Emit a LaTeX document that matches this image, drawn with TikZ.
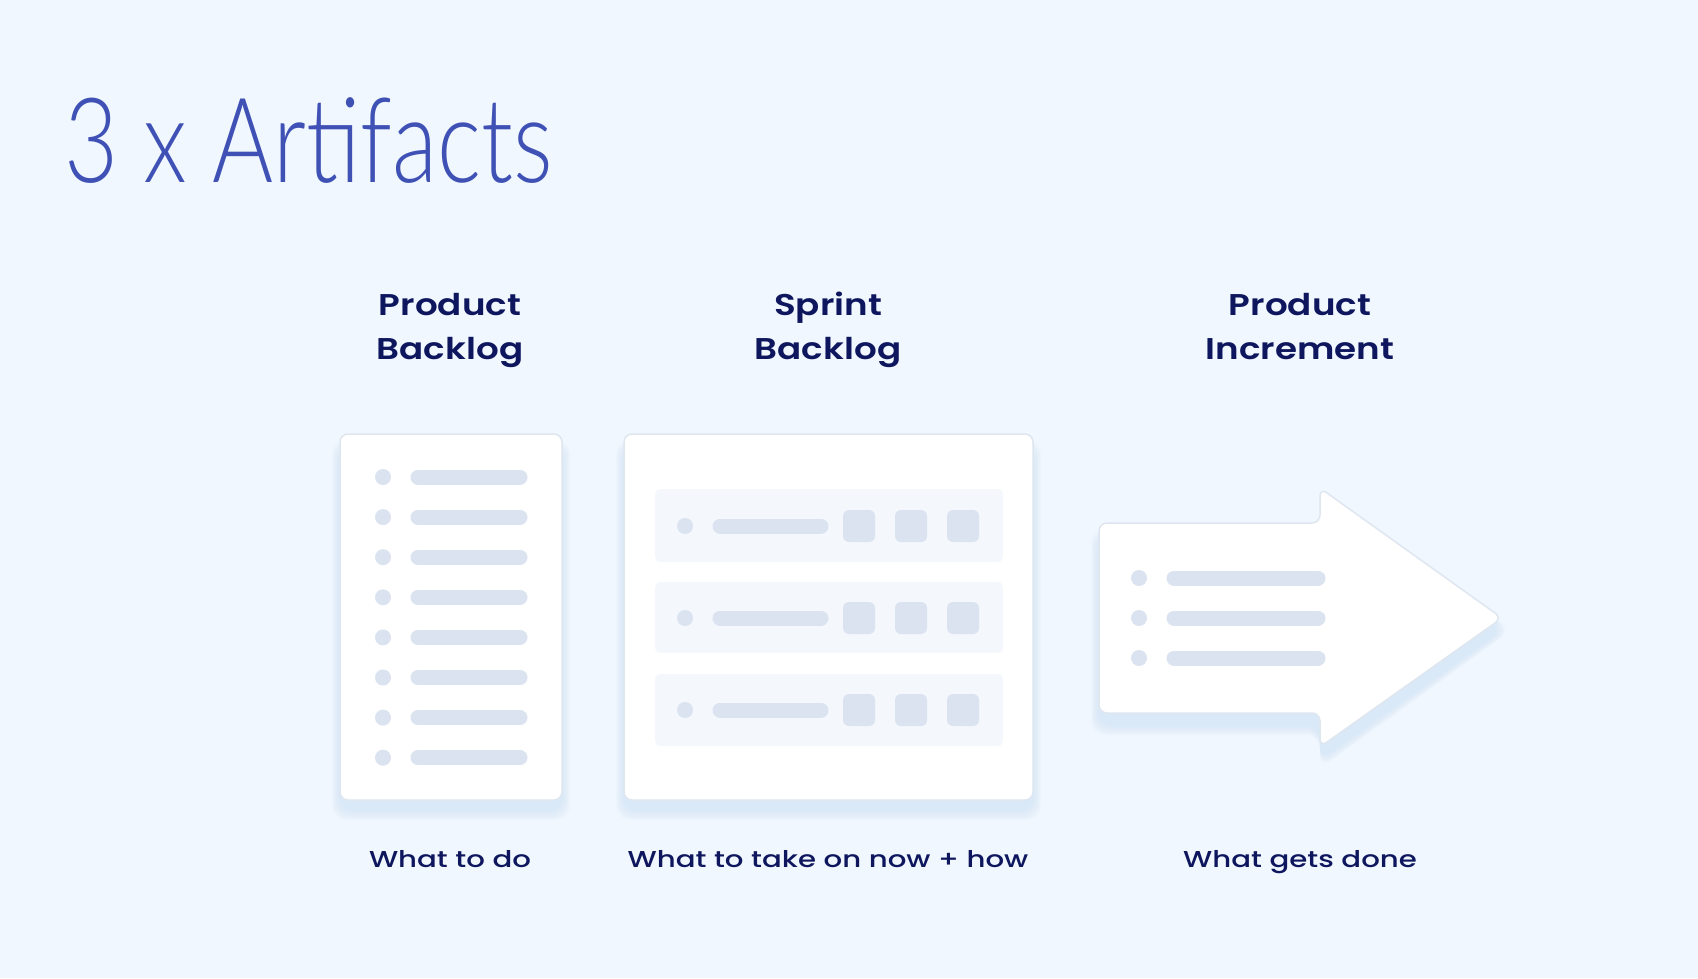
\documentclass[tikz,border=0pt]{standalone}
\usepackage{fontspec}
\newfontfamily\titlefont{Lato Light}
\newfontfamily\headfont{Poppins SemiBold}
\newfontfamily\labelfont{Poppins Medium}
\definecolor{bg}{RGB}{240,247,254}
\definecolor{titleblue}{RGB}{63,81,181}
\definecolor{navy}{RGB}{14,22,94}
\definecolor{bar}{RGB}{218,227,239}
\definecolor{panel}{RGB}{244,248,253}
\definecolor{cardline}{RGB}{222,230,240}
\definecolor{shadowc}{RGB}{200,222,248}
\tikzset{
  dot/.style={fill=bar},
  barline/.style={draw=bar,line width=15pt,line cap=round},
  card/.style={fill=white,draw=cardline,line width=1.5pt,rounded corners=8pt},
  sq/.style={fill=bar,rounded corners=6pt},
  pnl/.style={fill=panel,rounded corners=5pt},
  softshadow/.style={fill=shadowc,opacity=0.06,rounded corners=14pt},
  head/.style={font=\headfont\fontsize{30}{36}\selectfont,text=navy,anchor=base,inner sep=0pt,xscale=1.19},
  lab/.style={font=\labelfont\fontsize{23}{28}\selectfont,text=navy,anchor=base,inner sep=0pt,xscale=1.27},
}
\begin{document}
\begin{tikzpicture}[x=1pt,y=-1pt]
\fill[bg] (0,0) rectangle (1698,978);
\useasboundingbox (0,0) rectangle (1698,978);
% title
\node[font=\titlefont\fontsize{118}{120}\selectfont,text=titleblue,anchor=base west,inner sep=0pt,xscale=0.79] (title) at (64,182) {3 x Artifacts};
% headings
\node[head] (h1a) at (450,315) {Product};
\node[head] (h1b) at (450,359) {Backlog};
\node[head] (h2a) at (828,315) {Sprint};
\node[head] (h2b) at (828,359) {Backlog};
\node[head] (h3a) at (1300,315) {Product};
\node[head] (h3b) at (1300,359) {Increment};
% bottom labels
\node[lab] (l1) at (450,867) {What to do};
\node[lab] (l2) at (828,867) {What to take on now + how};
\node[lab] (l3) at (1300,867) {What gets done};
% shadows
\foreach \i in {1,...,10}{
  \fill[softshadow] (340-\i*0.8,434+16-\i) rectangle (562+\i*0.8,800+10+\i);
  \fill[softshadow] (624-\i*0.8,434+16-\i) rectangle (1033+\i*0.8,800+10+\i);
  \fill[softshadow] (1099-\i*0.8,523+16-\i) -- (1320,523+16-\i) -- (1320,488+16-\i) -- (1502+\i,618+12) -- (1320,747+12+\i) -- (1320,713+12+\i) -- (1099-\i*0.8,713+12+\i) -- cycle;
}
% product backlog card
\draw[card] (340,434) rectangle (562,800);
\foreach \k in {0,...,7}{
  \fill[dot] (383,477+\k*40.1) circle (8);
  \draw[barline] (418,477+\k*40.1) -- (520,477+\k*40.1);
}
% sprint backlog card
\draw[card] (624,434) rectangle (1033,800);
\foreach \yc/\ya/\yb in {526/489/562, 618/582/653, 710/674/746}{
  \fill[pnl] (655,\ya) rectangle (1003,\yb);
  \fill[dot] (685,\yc) circle (8);
  \draw[barline] (720,\yc) -- (821,\yc);
  \fill[sq] (843,\yc-16) rectangle (875,\yc+16);
  \fill[sq] (895,\yc-16) rectangle (927,\yc+16);
  \fill[sq] (947,\yc-16) rectangle (979,\yc+16);
}
% increment arrow
\draw[fill=white,draw=cardline,line width=1.5pt,rounded corners=8pt]
  (1099,618) -- (1099,523) -- (1320,523) -- (1320,488) -- (1502,618) -- (1320,747) -- (1320,713) -- (1099,713) -- cycle;
\foreach \yc in {578,618,658}{
  \fill[dot] (1139,\yc) circle (8);
  \draw[barline] (1174,\yc) -- (1318,\yc);
}
\end{tikzpicture}
\end{document}
